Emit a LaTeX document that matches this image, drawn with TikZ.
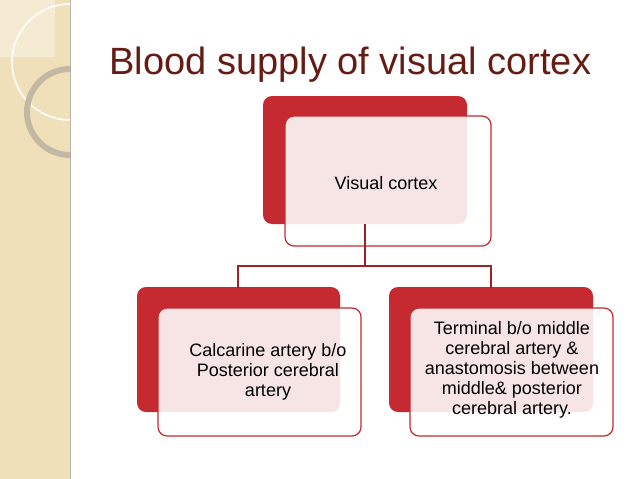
\documentclass[tikz,border=0pt]{standalone}
\usepackage{fontspec}
\setmainfont{Liberation Sans}
\begin{document}
\begin{tikzpicture}[x=1pt,y=-1pt,
  redbox/.style={fill=boxred,rounded corners=9pt},
  whitebox/.style={draw=boxred,line width=1.2pt,fill=white,fill opacity=0.88,text opacity=1,rounded corners=9pt,align=center,font=\fontsize{18}{20}\selectfont},
  conn/.style={draw=boxred!80!black,line width=1.3pt}]
\definecolor{boxred}{RGB}{196,42,48}
\definecolor{beige}{RGB}{240,224,186}
\definecolor{titlec}{RGB}{100,28,20}
\useasboundingbox (0,0) rectangle (638,479);
\fill[beige] (0,0) rectangle (70,479);
\draw[gray!60,line width=1pt] (70,0) -- (70,479);
\fill[white,opacity=0.35] (0,0) rectangle (55,57);
\begin{scope}
\clip (0,0) rectangle (70,479);
\draw[white,line width=1.5pt] (70,62) circle (58);
\draw[gray!40!beige,line width=6pt] (70,112) circle (43);
\end{scope}
\node[anchor=base west,text=titlec,font=\fontsize{38}{42}\selectfont] (title) at (106,74) {Blood supply of visual cortex};
% top
\fill[redbox] (263,96) rectangle (467,224);
\node[whitebox,minimum width=206pt,minimum height=130pt] (top) at (388,181) {};
\node[font=\fontsize{18}{20}\selectfont] (toplab) at (386,183) {Visual cortex};
% left
\fill[redbox] (137,287) rectangle (340,412);
\node[whitebox,minimum width=203pt,minimum height=128pt] (left) at (259.5,372) {};
\node[align=center,font=\fontsize{18}{20}\selectfont] (leftlab) at (268,372) {Calcarine artery b/o\\Posterior cerebral\\artery};
% right
\fill[redbox] (389,287) rectangle (593,412);
\node[whitebox,minimum width=203pt,minimum height=128pt] (right) at (511.5,372) {};
\node[align=center,font=\fontsize{18}{20}\selectfont] (rightlab) at (512,370) {Terminal b/o middle\\cerebral artery \&\\anastomosis between\\middle\& posterior\\cerebral artery.};
\coordinate (hub) at (365,266);
\draw[conn] (365,224) -- (hub);
\draw[conn] (238,288) |- (hub) -| (491,288);
\end{tikzpicture}
\end{document}
